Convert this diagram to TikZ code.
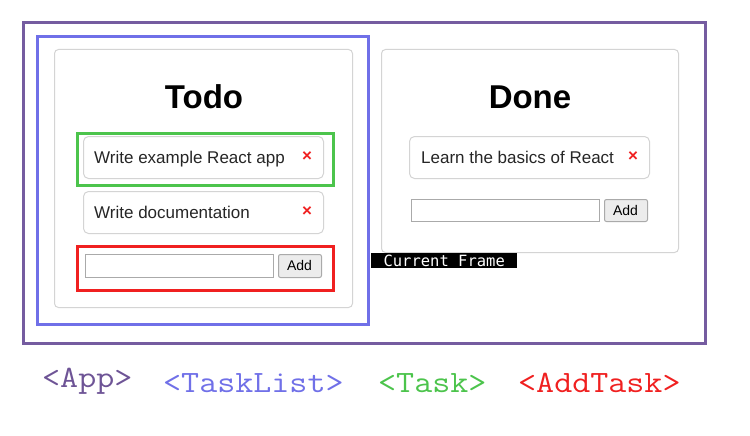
\documentclass[tikz,border=0pt]{standalone}
\usepackage{fontspec}
\setmainfont{Liberation Sans}
\newfontfamily\pixfont{DejaVu Sans Mono}
\definecolor{apppurple}{RGB}{117,92,160}
\definecolor{applabel}{RGB}{110,84,150}
\definecolor{listblue}{RGB}{112,112,232}
\definecolor{taskgreen}{RGB}{76,196,76}
\definecolor{addred}{RGB}{240,32,32}
\definecolor{panelgray}{RGB}{212,212,212}
\definecolor{fieldgray}{RGB}{170,170,170}
\definecolor{btnfill}{RGB}{236,236,236}
\newcommand{\tagtext}[1]{\scalebox{1.13}[1]{#1}}
\begin{document}
\begin{tikzpicture}[x=1pt,y=-1pt,
  frame/.style={draw, line width=3pt, inner sep=0pt, anchor=north west},
  panel/.style={draw=panelgray, line width=1pt, rounded corners=4pt, inner sep=0pt, anchor=north west, fill=white},
  taskbox/.style={draw=panelgray, line width=1pt, rounded corners=5pt, inner sep=0pt, anchor=north west, fill=white},
  field/.style={draw=fieldgray, line width=1pt, inner sep=0pt, anchor=north west, fill=white},
  button/.style={draw=fieldgray, line width=1pt, rounded corners=2pt, inner sep=0pt, anchor=north west, fill=btnfill},
  title/.style={font=\fontsize{33}{36}\selectfont\bfseries, inner sep=0pt, anchor=base},
  tasktext/.style={font=\fontsize{17}{20}\selectfont, text=black!85, inner sep=0pt, anchor=base west},
  close/.style={font=\fontsize{17}{20}\selectfont\bfseries, text=addred, inner sep=0pt, anchor=center},
  btntext/.style={font=\fontsize{14}{16}\selectfont, inner sep=0pt, anchor=base},
  tag/.style={font=\ttfamily\fontsize{31}{32}\selectfont, inner sep=0pt, anchor=base west}
]
\useasboundingbox[fill=white] (0,0) rectangle (750,436);

% App frame
\node[frame, draw=apppurple, minimum width=682pt, minimum height=320pt] (app) at (21.5,21.5) {};

% Todo panel
\node[panel, minimum width=298pt, minimum height=258pt] (todo) at (54,49) {};
\node[title] (todotitle) at (204,108) {Todo};

% Task list (blue) frame
\node[frame, draw=listblue, minimum width=331pt, minimum height=287pt] (tasklist) at (35.5,35.5) {};

% Todo tasks
\node[taskbox, minimum width=240pt, minimum height=42pt] (task1) at (83,136) {};
\node[tasktext] (task1text) at (94,163) {Write example React app};
\node[close] (task1x) at (307,157) {×};
\node[frame, draw=taskgreen, minimum width=256pt, minimum height=52pt] (taskframe) at (76,131.5) {};

\node[taskbox, minimum width=240pt, minimum height=42pt] (task2) at (83,191) {};
\node[tasktext] (task2text) at (94,218) {Write documentation};
\node[close] (task2x) at (307,212) {×};

% Todo add task
\node[field, minimum width=188pt, minimum height=23pt] (field1) at (85,254) {};
\node[button, minimum width=43pt, minimum height=23pt] (btn1) at (278,254) {};
\node[btntext] (btn1text) at (299.5,270) {Add};
\node[frame, draw=addred, minimum width=256pt, minimum height=44pt] (addframe) at (76,245) {};

% Done panel
\node[panel, minimum width=297pt, minimum height=203pt] (done) at (381,49) {};
\node[title] (donetitle) at (530,108) {Done};
\node[taskbox, minimum width=240pt, minimum height=42pt] (task3) at (409,136) {};
\node[tasktext] (task3text) at (421,163) {Learn the basics of React};
\node[close] (task3x) at (633,157) {×};
\node[field, minimum width=188pt, minimum height=22pt] (field2) at (411,199) {};
\node[button, minimum width=43pt, minimum height=22pt] (btn2) at (604,199) {};
\node[btntext] (btn2text) at (625.5,215) {Add};

% Current Frame label
\node[fill=black, text=white, inner sep=0pt, anchor=north west, minimum width=146pt, minimum height=15pt,
      font=\pixfont\fontsize{15.5}{16}\selectfont] (current) at (371,253) {Current Frame};

% Legend tags
\node[tag, text=applabel] (tagapp) at (42,387) {\tagtext{<App>}};
\node[tag, text=listblue] (taglist) at (163,392) {\tagtext{<TaskList>}};
\node[tag, text=taskgreen] (tagtask) at (378,392) {\tagtext{<Task>}};
\node[tag, text=addred] (tagadd) at (518,392) {\tagtext{<AddTask>}};
\end{tikzpicture}
\end{document}
